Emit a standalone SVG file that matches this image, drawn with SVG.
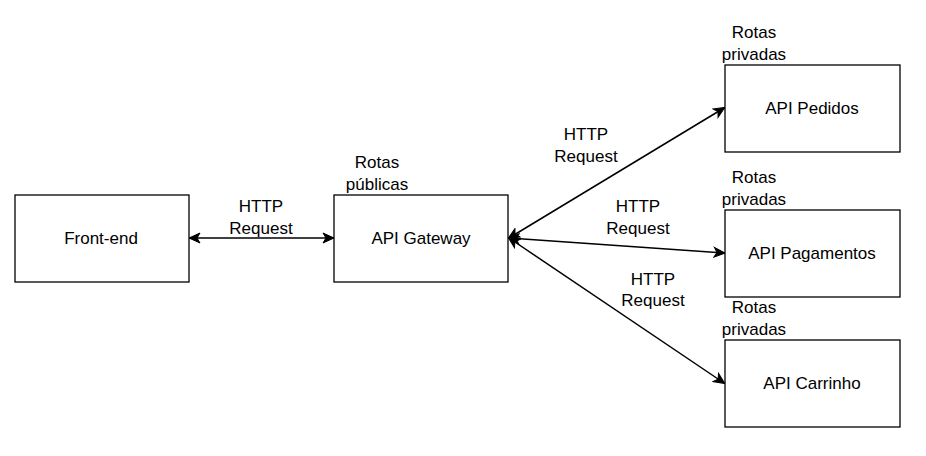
<svg xmlns="http://www.w3.org/2000/svg" width="926" height="456" viewBox="0 0 926 456">
<style>
.box{fill:#fff;stroke:#000;stroke-width:1.3}
.t{font-family:"Liberation Sans",Arial,sans-serif;font-size:17px;fill:#000;text-anchor:middle}
.c{stroke:#000;stroke-width:1.5;fill:none;marker-start:url(#arr);marker-end:url(#arr)}
</style>
<defs>
<marker id="arr" viewBox="-1 -6 13 12" refX="10" refY="0" markerWidth="13" markerHeight="12" markerUnits="userSpaceOnUse" orient="auto-start-reverse">
<path d="M0,-5 L11,0 L0,5 L3,0 Z" fill="#000" stroke="#000" stroke-width="1"/>
</marker>
</defs>
<rect width="926" height="456" fill="#fff"/>
<g id="connectors">
<line class="c" x1="190" y1="238" x2="333" y2="238"/>
<line class="c" x1="509" y1="238" x2="724" y2="108"/>
<line class="c" x1="509" y1="238" x2="724" y2="253"/>
<line class="c" x1="509" y1="238" x2="724" y2="383"/>
</g>
<g id="labels">
<text class="t" x="261" y="212">HTTP</text>
<text class="t" x="261" y="234">Request</text>
<text class="t" x="586" y="140">HTTP</text>
<text class="t" x="586" y="162">Request</text>
<text class="t" x="638" y="212">HTTP</text>
<text class="t" x="638" y="234">Request</text>
<text class="t" x="653" y="285">HTTP</text>
<text class="t" x="653" y="306">Request</text>
</g>
<g id="front-end">
<rect class="box" x="15" y="195" width="174" height="87"/>
<text class="t" x="101" y="244">Front-end</text>
</g>
<g id="api-gateway">
<text class="t" x="377" y="168">Rotas</text>
<text class="t" x="377" y="190">públicas</text>
<rect class="box" x="334" y="195" width="174" height="87"/>
<text class="t" x="421" y="244">API Gateway</text>
</g>
<g id="api-pedidos">
<text class="t" x="754" y="38">Rotas</text>
<text class="t" x="754" y="60">privadas</text>
<rect class="box" x="725" y="65" width="175" height="87"/>
<text class="t" x="812" y="114">API Pedidos</text>
</g>
<g id="api-pagamentos">
<text class="t" x="754" y="183">Rotas</text>
<text class="t" x="754" y="205">privadas</text>
<rect class="box" x="725" y="210" width="175" height="87"/>
<text class="t" x="812" y="259">API Pagamentos</text>
</g>
<g id="api-carrinho">
<text class="t" x="754" y="313">Rotas</text>
<text class="t" x="754" y="335">privadas</text>
<rect class="box" x="725" y="340" width="175" height="87"/>
<text class="t" x="812" y="389">API Carrinho</text>
</g>
</svg>
